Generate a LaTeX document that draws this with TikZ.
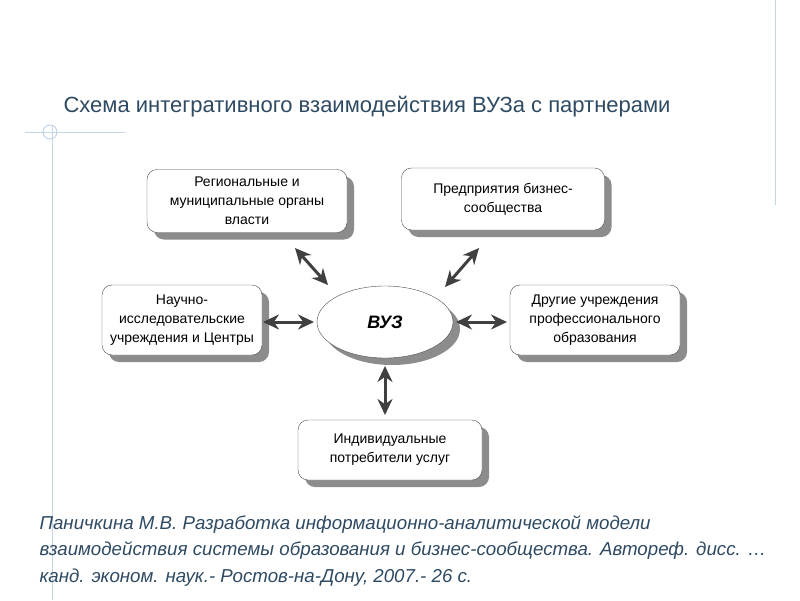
\documentclass[tikz,border=0pt]{standalone}
\usepackage{fontspec}
\setmainfont{Liberation Sans}
\usetikzlibrary{shadows,arrows.meta,shapes.geometric}
\definecolor{titleblue}{HTML}{2E4A63}
\definecolor{decor}{HTML}{C5D5E6}
\begin{document}
\begin{tikzpicture}[x=1pt,y=-1pt,
    box/.style = {draw=black!70, rounded corners=10pt, fill=white, align=center,
        font=\fontsize{14}{19}\selectfont, inner sep=0pt,
        drop shadow={shadow xshift=7pt, shadow yshift=-7pt, fill=black!45, opacity=1}},
    link/.style = {{Stealth[length=16pt,width=15pt]}-{Stealth[length=16pt,width=15pt]}, line width=3pt, draw=black!75}]
    \useasboundingbox (0,0) rectangle (800,600);
    % decoration
    \draw[decor, line width=1pt] (52,125) -- (52,600);
    \draw[decor, line width=1pt] (25,132) -- (125,132);
    \draw[decor, line width=1pt] (50,132) circle (7);
    \draw[decor, line width=1pt] (775,0) -- (775,205);
    \node[anchor=base west, text=titleblue, font=\fontsize{22}{26}\selectfont] (title) at (60,112) {Схема интегративного взаимодействия ВУЗа с партнерами};
    % nodes
    \node[box, minimum width=200, minimum height=63] (1) at (247,201) {Региональные и\\муниципальные органы\\власти};
    \node[box, minimum width=203, minimum height=62] (2) at (503,199) {Предприятия бизнес-\\сообщества};
    \node[box, minimum width=160, minimum height=70] (3) at (182,320) {Научно-\\исследовательские\\учреждения и Центры};
    \node[box, minimum width=170, minimum height=70] (4) at (595,320) {Другие учреждения\\профессионального\\образования};
    \node[box, minimum width=184, minimum height=60] (5) at (390,450) {Индивидуальные\\потребители услуг};
    \node[draw=black!70, ellipse, fill=white, minimum width=136, minimum height=72,
        font=\fontsize{18}{20}\selectfont\bfseries\itshape,
        drop shadow={shadow xshift=7pt, shadow yshift=-7pt, fill=black!45, opacity=1}] (0) at (385,322) {ВУЗ};
    % links
    \coordinate (a1) at (295,248); \coordinate (b1) at (328,285);
    \coordinate (a2) at (479,248); \coordinate (b2) at (445,287);
    \coordinate (a3) at (263,322); \coordinate (b3) at (314,322);
    \coordinate (a4) at (456,322); \coordinate (b4) at (507,322);
    \coordinate (a5) at (385,366); \coordinate (b5) at (385,415);
    \draw[link] (a1) -- (b1);
    \draw[link] (a2) -- (b2);
    \draw[link] (a3) -- (b3);
    \draw[link] (a4) -- (b4);
    \draw[link] (a5) -- (b5);
    % reference
    \node[anchor=north west, align=left, text=titleblue, font=\fontsize{18.7}{26.5}\selectfont\itshape] (ref) at (36,512) {Паничкина М.В. Разработка информационно-аналитической модели\\взаимодействия системы образования и бизнес-сообщества. Автореф. дисс. …\\канд. эконом. наук.- Ростов-на-Дону, 2007.- 26 с.};
\end{tikzpicture}
\end{document}
